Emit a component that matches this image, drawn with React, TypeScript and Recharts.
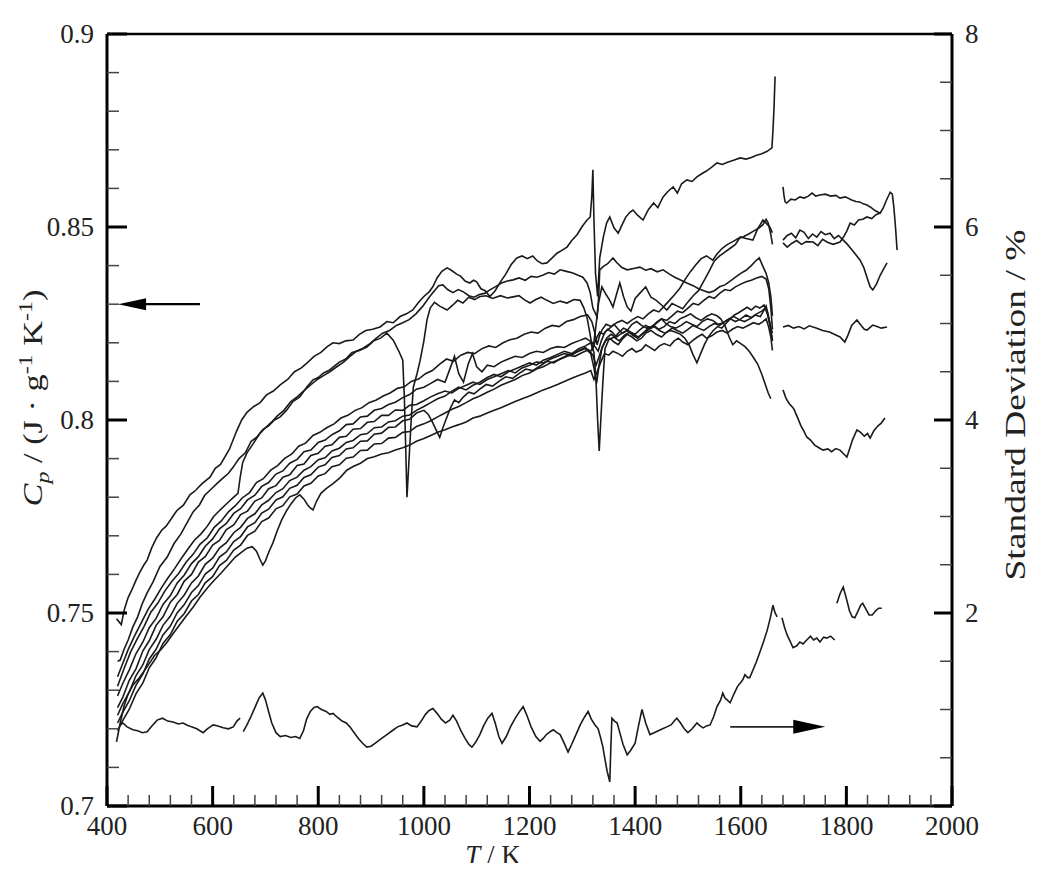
import React from 'react';
import { LineChart, Line, XAxis, YAxis, ReferenceLine } from 'recharts';

const W = 1030;
const H = 855;
const FONT = '"Liberation Serif", "Times New Roman", serif';
const INK = '#1a1a1a';

type P = [number, number | null];

// axis ticks
const xTicks: number[] = [];
for (let t = 400; t <= 2000; t += 40) xTicks.push(t);
const leftTicks: number[] = [];
for (let i = 70; i <= 90; i++) leftTicks.push(i / 100);
const rightTicks: number[] = [];
for (let i = 0; i <= 16; i++) rightTicks.push(i / 2);

// Cp runs (J g-1 K-1) vs T (K)
const c1: P[] = [
  [418, 0.7485], [427, 0.747], [433, 0.751], [440, 0.754], [447, 0.756], [455, 0.7585], [462, 0.7605], [470, 0.7625],
  [476, 0.7637], [485, 0.767], [494, 0.7695], [504, 0.7715], [512, 0.7725], [522, 0.7745], [532, 0.7765], [545, 0.778],
  [557, 0.7806], [568, 0.7818], [580, 0.7835], [595, 0.7852], [605, 0.7875], [615, 0.7885], [623, 0.7904], [632, 0.7925],
  [645, 0.797], [655, 0.8], [665, 0.802], [678, 0.8035], [690, 0.8045], [702, 0.8065], [715, 0.8075], [728, 0.8091],
  [742, 0.8105], [755, 0.8125], [768, 0.8135], [779, 0.8148], [792, 0.8165], [805, 0.8175], [817, 0.819], [828, 0.82],
  [840, 0.8198], [852, 0.8205], [866, 0.8207], [878, 0.8222], [890, 0.8232], [903, 0.8235], [917, 0.8241], [930, 0.8255],
  [942, 0.8252], [955, 0.8268], [967, 0.8275], [979, 0.8285], [990, 0.8305], [1000, 0.832], [1010, 0.8332], [1017, 0.8345],
  [1025, 0.8368], [1034, 0.8385], [1044, 0.8394], [1052, 0.8388], [1062, 0.8378], [1070, 0.8372], [1078, 0.836], [1087, 0.8355],
  [1094, 0.8362], [1100, 0.8358], [1108, 0.834], [1116, 0.8335], [1125, 0.832], [1135, 0.8335], [1145, 0.8358], [1155, 0.8378],
  [1165, 0.8402], [1176, 0.842], [1186, 0.8425], [1196, 0.8418], [1206, 0.8425], [1215, 0.8412], [1224, 0.8405], [1233, 0.8407],
  [1243, 0.842], [1252, 0.8432], [1262, 0.844], [1271, 0.8448], [1280, 0.8465], [1290, 0.848], [1300, 0.8502], [1309, 0.8518],
  [1315, 0.8526], [1318, 0.858], [1320, 0.8648], [1322, 0.852], [1325, 0.838], [1329, 0.832], [1333, 0.842], [1340, 0.8475],
  [1346, 0.851], [1352, 0.8526], [1360, 0.8498], [1368, 0.8484], [1375, 0.8505], [1382, 0.8525], [1390, 0.8538], [1396, 0.8544],
  [1405, 0.853], [1415, 0.8518], [1425, 0.8545], [1435, 0.8562], [1443, 0.855], [1453, 0.8578], [1462, 0.8592], [1472, 0.8604],
  [1480, 0.8588], [1488, 0.8612], [1498, 0.8622], [1508, 0.8618], [1517, 0.863], [1526, 0.8638], [1535, 0.8645], [1545, 0.8655],
  [1555, 0.8666], [1565, 0.8662], [1575, 0.8668], [1585, 0.8672], [1599, 0.8679], [1610, 0.8676], [1620, 0.868], [1630, 0.8686],
  [1640, 0.869], [1650, 0.8696], [1659, 0.8705], [1661, 0.875], [1663, 0.881], [1665, 0.889],
];

const c2: P[] = [
  [420, 0.7375], [425, 0.7378], [432, 0.7405], [440, 0.743], [449, 0.7464], [458, 0.749], [467, 0.7525], [476, 0.7552],
  [487, 0.758], [500, 0.762], [514, 0.7645], [527, 0.768], [540, 0.7705], [552, 0.7735], [563, 0.7762], [575, 0.778],
  [585, 0.7805], [595, 0.7818], [608, 0.7835], [620, 0.785], [630, 0.7862], [639, 0.7878], [650, 0.79], [662, 0.7915],
  [673, 0.7945], [684, 0.7956], [695, 0.7975], [706, 0.7985], [717, 0.8], [728, 0.8008], [740, 0.8025], [752, 0.8048],
  [765, 0.806], [778, 0.8085], [790, 0.8104], [800, 0.811], [810, 0.8122], [820, 0.8128], [828, 0.8137], [840, 0.815],
  [852, 0.8158], [864, 0.8175], [878, 0.818], [892, 0.8189], [905, 0.8205], [918, 0.8212], [930, 0.8225], [942, 0.8207],
  [952, 0.818], [960, 0.8155], [963, 0.806], [965, 0.796], [968, 0.78], [972, 0.79], [976, 0.8], [980, 0.8085],
  [987, 0.812], [993, 0.8155], [1000, 0.8205], [1006, 0.826], [1012, 0.829], [1020, 0.8305], [1030, 0.8295], [1044, 0.8285],
  [1055, 0.8298], [1064, 0.831], [1074, 0.8303], [1085, 0.8318], [1096, 0.8312], [1106, 0.832], [1118, 0.8322], [1130, 0.8315],
  [1145, 0.8322], [1158, 0.8316], [1169, 0.8319], [1180, 0.8322], [1190, 0.8312], [1201, 0.8303], [1212, 0.8312], [1222, 0.8318],
  [1233, 0.831], [1245, 0.8302], [1258, 0.8308], [1271, 0.8303], [1284, 0.8312], [1296, 0.831], [1303, 0.829], [1309, 0.8265],
  [1315, 0.822], [1320, 0.818], [1325, 0.8235], [1331, 0.8305], [1337, 0.8345], [1345, 0.8325], [1352, 0.831], [1358, 0.8293],
  [1364, 0.8322], [1371, 0.8355], [1378, 0.832], [1385, 0.8293], [1392, 0.8282], [1400, 0.8315], [1410, 0.833], [1420, 0.8345],
  [1430, 0.8318], [1440, 0.831], [1450, 0.8298], [1460, 0.8285], [1470, 0.8302], [1480, 0.8295], [1490, 0.8288], [1500, 0.8306],
  [1510, 0.8322], [1520, 0.8335], [1530, 0.836], [1540, 0.8385], [1550, 0.8412], [1560, 0.8425], [1570, 0.8435], [1580, 0.8445],
  [1590, 0.8455], [1599, 0.8474], [1610, 0.847], [1623, 0.8466], [1632, 0.8495], [1642, 0.8518], [1648, 0.851], [1655, 0.85],
  [1660, 0.8485], [1670, null],
  [1680, 0.8604], [1682, 0.858], [1684, 0.8565], [1687, 0.8562], [1695, 0.8572], [1703, 0.857], [1712, 0.8578], [1720, 0.8575],
  [1728, 0.858], [1735, 0.8588], [1742, 0.858], [1750, 0.8583], [1760, 0.8585], [1770, 0.858], [1780, 0.8582], [1788, 0.8575],
  [1798, 0.8578], [1810, 0.857], [1818, 0.8566], [1825, 0.8565], [1832, 0.856], [1839, 0.8557], [1847, 0.855], [1855, 0.8542],
  [1864, 0.8536], [1870, 0.855], [1876, 0.857], [1883, 0.859], [1887, 0.8585], [1890, 0.855], [1893, 0.85], [1896, 0.844],
];

const c3: P[] = [
  [420, 0.7335], [430, 0.737], [440, 0.7405], [452, 0.744], [465, 0.7475], [478, 0.751], [490, 0.7535], [503, 0.7565],
  [515, 0.759], [528, 0.7615], [540, 0.764], [553, 0.7665], [565, 0.7688], [578, 0.7705], [590, 0.7725], [602, 0.775],
  [615, 0.7768], [628, 0.7785], [640, 0.78], [648, 0.781], [652, 0.785], [657, 0.789], [665, 0.7915], [675, 0.7935],
  [690, 0.7966], [700, 0.798], [712, 0.7995], [722, 0.801], [735, 0.8025], [748, 0.8048], [760, 0.806], [772, 0.8075],
  [785, 0.809], [798, 0.8105], [810, 0.8115], [822, 0.8125], [835, 0.8138], [848, 0.815], [860, 0.8165], [872, 0.8178],
  [885, 0.8186], [898, 0.8198], [910, 0.8212], [922, 0.8225], [935, 0.8232], [948, 0.8245], [960, 0.8252], [972, 0.826],
  [985, 0.8275], [998, 0.8295], [1010, 0.8318], [1020, 0.8335], [1028, 0.8348], [1036, 0.835], [1045, 0.8338], [1055, 0.833],
  [1065, 0.8338], [1075, 0.8332], [1085, 0.8322], [1095, 0.8318], [1105, 0.8325], [1115, 0.8328], [1125, 0.8337], [1135, 0.8345],
  [1147, 0.8355], [1158, 0.836], [1169, 0.8363], [1180, 0.8368], [1192, 0.8362], [1203, 0.8372], [1214, 0.837], [1225, 0.8375],
  [1236, 0.8382], [1247, 0.8378], [1258, 0.8389], [1270, 0.8385], [1282, 0.8381], [1292, 0.8375], [1301, 0.837], [1309, 0.8355],
  [1315, 0.833], [1320, 0.829], [1328, 0.8267], [1331, 0.832], [1333, 0.8389], [1340, 0.8398], [1348, 0.8405], [1358, 0.842],
  [1365, 0.8408], [1375, 0.8395], [1385, 0.8389], [1395, 0.8392], [1409, 0.8396], [1420, 0.8388], [1430, 0.8392], [1442, 0.8384],
  [1453, 0.8389], [1465, 0.8378], [1475, 0.837], [1487, 0.8362], [1498, 0.8355], [1510, 0.8348], [1520, 0.834], [1530, 0.8335],
  [1540, 0.833], [1550, 0.8335], [1560, 0.8345], [1570, 0.835], [1580, 0.836], [1590, 0.837], [1600, 0.838], [1610, 0.8388],
  [1620, 0.84], [1628, 0.8412], [1635, 0.842], [1642, 0.8398], [1648, 0.838], [1653, 0.8355], [1657, 0.832], [1660, 0.827],
  [1670, null],
  [1680, 0.8466], [1688, 0.8478], [1696, 0.8484], [1704, 0.8472], [1712, 0.8492], [1720, 0.8486], [1728, 0.847], [1736, 0.8482],
  [1744, 0.8474], [1752, 0.8488], [1760, 0.848], [1769, 0.8484], [1777, 0.847], [1785, 0.8478], [1794, 0.8466], [1802, 0.8455],
  [1810, 0.8442], [1818, 0.8428], [1826, 0.8414], [1833, 0.8395], [1840, 0.8365], [1845, 0.8345], [1850, 0.8337], [1857, 0.8352],
  [1864, 0.8375], [1870, 0.839], [1877, 0.8407],
];

const c4: P[] = [
  [420, 0.731], [432, 0.7355], [445, 0.74], [458, 0.7435], [470, 0.7465], [483, 0.7502], [496, 0.7525], [510, 0.7558],
  [523, 0.7582], [536, 0.7603], [550, 0.7632], [563, 0.7652], [576, 0.7678], [590, 0.7695], [603, 0.7722], [616, 0.7738],
  [630, 0.7762], [643, 0.7778], [656, 0.7798], [670, 0.7812], [683, 0.7838], [696, 0.7848], [710, 0.787], [723, 0.7882],
  [736, 0.79], [750, 0.7912], [763, 0.7932], [776, 0.794], [790, 0.796], [803, 0.7968], [816, 0.798], [830, 0.799],
  [843, 0.8005], [856, 0.8012], [870, 0.8025], [883, 0.8032], [896, 0.8045], [910, 0.8052], [923, 0.8062], [936, 0.807],
  [950, 0.8082], [963, 0.8086], [976, 0.81], [990, 0.8106], [1003, 0.812], [1016, 0.8128], [1030, 0.8145], [1043, 0.8158],
  [1056, 0.8152], [1070, 0.8168], [1083, 0.8175], [1096, 0.8172], [1110, 0.8185], [1123, 0.8192], [1136, 0.8188], [1150, 0.82],
  [1163, 0.8208], [1176, 0.8212], [1190, 0.8222], [1203, 0.8228], [1216, 0.8225], [1230, 0.8238], [1243, 0.8245], [1256, 0.8242],
  [1270, 0.8255], [1283, 0.826], [1296, 0.8268], [1310, 0.8272], [1318, 0.8255], [1323, 0.823], [1328, 0.8195], [1333, 0.822],
  [1338, 0.8235], [1345, 0.8248], [1355, 0.8242], [1365, 0.8252], [1375, 0.8258], [1385, 0.825], [1395, 0.826], [1405, 0.8268],
  [1415, 0.8262], [1425, 0.8275], [1435, 0.8285], [1445, 0.828], [1455, 0.8295], [1465, 0.831], [1475, 0.8325], [1485, 0.8342],
  [1495, 0.8365], [1505, 0.8385], [1515, 0.8402], [1525, 0.8418], [1535, 0.8425], [1547, 0.8414], [1555, 0.843], [1565, 0.8445],
  [1575, 0.8455], [1585, 0.8462], [1595, 0.847], [1605, 0.8475], [1615, 0.8482], [1625, 0.849], [1635, 0.8498], [1642, 0.8506],
  [1648, 0.852], [1652, 0.851], [1657, 0.848], [1660, 0.8455], [1670, null],
  [1680, 0.8459], [1688, 0.8448], [1697, 0.8458], [1706, 0.8465], [1715, 0.8455], [1724, 0.8462], [1737, 0.8461], [1746, 0.8452],
  [1755, 0.8468], [1765, 0.846], [1775, 0.8455], [1788, 0.8461], [1795, 0.8475], [1801, 0.849], [1807, 0.851], [1815, 0.8505],
  [1823, 0.8518], [1831, 0.852], [1839, 0.8526], [1848, 0.8522], [1856, 0.8532], [1864, 0.8536],
];

const c5: P[] = [
  [420, 0.7285], [430, 0.7318], [442, 0.7352], [455, 0.7395], [468, 0.7425], [480, 0.7462], [493, 0.7486], [506, 0.7522],
  [520, 0.7545], [533, 0.7578], [546, 0.7598], [560, 0.7628], [573, 0.7646], [586, 0.7673], [600, 0.7692], [613, 0.7718],
  [626, 0.7732], [640, 0.7758], [653, 0.777], [666, 0.7793], [680, 0.7805], [693, 0.7828], [706, 0.7838], [720, 0.786],
  [733, 0.7868], [746, 0.7888], [760, 0.7898], [773, 0.7918], [786, 0.7922], [800, 0.7942], [813, 0.7948], [826, 0.7962],
  [840, 0.7972], [853, 0.7988], [866, 0.799], [880, 0.8008], [893, 0.801], [906, 0.8025], [920, 0.803], [933, 0.804],
  [946, 0.8046], [960, 0.8058], [973, 0.8066], [986, 0.808], [1000, 0.8085], [1013, 0.8095], [1026, 0.8105], [1040, 0.8098],
  [1050, 0.8135], [1058, 0.8165], [1066, 0.812], [1075, 0.8098], [1084, 0.8145], [1092, 0.8172], [1100, 0.8138], [1110, 0.8125],
  [1120, 0.8142], [1133, 0.8138], [1146, 0.815], [1160, 0.8158], [1173, 0.8165], [1186, 0.8162], [1200, 0.8172], [1213, 0.8178],
  [1226, 0.8175], [1240, 0.8185], [1253, 0.819], [1266, 0.8188], [1280, 0.8198], [1293, 0.8205], [1306, 0.8212], [1318, 0.8202],
  [1324, 0.819], [1330, 0.8178], [1336, 0.8205], [1343, 0.8228], [1352, 0.8238], [1360, 0.8248], [1368, 0.8235], [1376, 0.8225],
  [1385, 0.8232], [1394, 0.8248], [1403, 0.8255], [1412, 0.8245], [1422, 0.8238], [1432, 0.8242], [1442, 0.8255], [1450, 0.8262],
  [1458, 0.825], [1467, 0.8242], [1477, 0.8238], [1487, 0.8245], [1497, 0.8255], [1507, 0.8248], [1517, 0.8242], [1527, 0.8255],
  [1537, 0.8262], [1547, 0.8258], [1557, 0.8248], [1567, 0.8252], [1577, 0.8262], [1587, 0.8268], [1597, 0.826], [1607, 0.8255],
  [1617, 0.8262], [1627, 0.8272], [1637, 0.8268], [1643, 0.8282], [1648, 0.8295], [1652, 0.8272], [1656, 0.8245], [1660, 0.8225],
  [1670, null],
  [1680, 0.8241], [1690, 0.8245], [1700, 0.8238], [1710, 0.8242], [1720, 0.8236], [1730, 0.8244], [1744, 0.8238], [1755, 0.8232],
  [1768, 0.8228], [1780, 0.822], [1788, 0.8215], [1797, 0.8202], [1803, 0.822], [1810, 0.8245], [1820, 0.8259], [1828, 0.8245],
  [1834, 0.8235], [1839, 0.8233], [1845, 0.824], [1850, 0.8246], [1858, 0.8242], [1866, 0.8238], [1877, 0.8241],
];

const c6: P[] = [
  [420, 0.7255], [430, 0.7282], [442, 0.7325], [455, 0.7356], [468, 0.7402], [480, 0.7428], [493, 0.7468], [506, 0.749],
  [520, 0.7528], [533, 0.7548], [546, 0.7582], [560, 0.76], [573, 0.7632], [586, 0.7646], [600, 0.7676], [613, 0.7688],
  [626, 0.7716], [640, 0.7728], [653, 0.7755], [666, 0.7764], [680, 0.779], [693, 0.7798], [706, 0.7822], [720, 0.783],
  [733, 0.7852], [746, 0.7858], [760, 0.7882], [773, 0.7886], [786, 0.7908], [800, 0.7914], [813, 0.7932], [826, 0.7936],
  [840, 0.7955], [853, 0.7958], [866, 0.7976], [880, 0.7978], [893, 0.7994], [906, 0.7996], [920, 0.8012], [933, 0.8012],
  [946, 0.8026], [960, 0.8025], [973, 0.8038], [986, 0.804], [1000, 0.805], [1013, 0.806], [1026, 0.8068], [1040, 0.8075],
  [1053, 0.807], [1066, 0.8082], [1080, 0.809], [1093, 0.8098], [1106, 0.8092], [1120, 0.8105], [1133, 0.8112], [1146, 0.812],
  [1160, 0.8128], [1173, 0.8122], [1186, 0.8135], [1200, 0.8142], [1213, 0.815], [1226, 0.8148], [1240, 0.8158], [1253, 0.8165],
  [1266, 0.8172], [1280, 0.8168], [1293, 0.818], [1306, 0.8188], [1315, 0.8175], [1322, 0.8195], [1328, 0.8215], [1333, 0.8228],
  [1340, 0.8222], [1348, 0.8235], [1356, 0.8228], [1365, 0.8215], [1375, 0.8225], [1385, 0.8232], [1395, 0.822], [1405, 0.8212],
  [1415, 0.8225], [1425, 0.8238], [1435, 0.8245], [1445, 0.8235], [1455, 0.8242], [1465, 0.8255], [1475, 0.825], [1485, 0.8262],
  [1495, 0.8268], [1505, 0.8275], [1515, 0.8265], [1525, 0.8258], [1535, 0.8268], [1545, 0.8275], [1555, 0.827], [1562, 0.8262],
  [1570, 0.8245], [1578, 0.8215], [1585, 0.8195], [1592, 0.8205], [1600, 0.8198], [1608, 0.819], [1616, 0.8178], [1624, 0.8162],
  [1632, 0.8145], [1640, 0.8118], [1647, 0.809], [1652, 0.807], [1657, 0.8055], [1670, null],
  [1680, 0.8078], [1686, 0.8055], [1692, 0.8042], [1700, 0.803], [1707, 0.8008], [1714, 0.7985], [1720, 0.797], [1725, 0.7956],
  [1732, 0.7948], [1740, 0.7935], [1748, 0.7928], [1756, 0.7922], [1765, 0.7925], [1772, 0.7918], [1780, 0.7926], [1788, 0.7922],
  [1795, 0.7912], [1801, 0.7904], [1806, 0.7925], [1812, 0.795], [1820, 0.7974], [1827, 0.7968], [1834, 0.7958], [1840, 0.7965],
  [1845, 0.7953], [1852, 0.7972], [1860, 0.7985], [1866, 0.7992], [1873, 0.8005],
];

const c7: P[] = [
  [420, 0.7235], [430, 0.7265], [442, 0.7295], [455, 0.7338], [468, 0.7366], [480, 0.7405], [493, 0.7432], [506, 0.7468],
  [520, 0.7492], [533, 0.7525], [546, 0.7546], [560, 0.7578], [573, 0.7596], [586, 0.7626], [600, 0.7642], [613, 0.7668],
  [626, 0.7682], [640, 0.7708], [653, 0.7722], [666, 0.7745], [680, 0.7757], [693, 0.778], [706, 0.7792], [720, 0.7812],
  [733, 0.7822], [746, 0.7843], [760, 0.7852], [773, 0.787], [786, 0.7879], [800, 0.7897], [813, 0.7902], [826, 0.792],
  [840, 0.7927], [853, 0.7942], [866, 0.7947], [880, 0.7962], [893, 0.7965], [906, 0.798], [920, 0.7982], [933, 0.7995],
  [946, 0.7998], [960, 0.801], [973, 0.8013], [986, 0.8025], [1000, 0.8035], [1013, 0.8045], [1026, 0.8055], [1040, 0.8062],
  [1053, 0.8075], [1066, 0.8085], [1080, 0.8078], [1093, 0.809], [1106, 0.8098], [1120, 0.811], [1133, 0.8118], [1146, 0.8112],
  [1160, 0.8125], [1173, 0.8132], [1186, 0.814], [1200, 0.8148], [1213, 0.8142], [1226, 0.8155], [1240, 0.8162], [1253, 0.817],
  [1266, 0.8178], [1280, 0.8172], [1293, 0.8185], [1306, 0.8192], [1316, 0.82], [1322, 0.8175], [1326, 0.81], [1329, 0.8],
  [1332, 0.792], [1335, 0.8], [1339, 0.81], [1343, 0.8185], [1350, 0.8208], [1360, 0.8215], [1370, 0.8205], [1380, 0.822],
  [1390, 0.8228], [1400, 0.8222], [1410, 0.8235], [1420, 0.8245], [1430, 0.8238], [1440, 0.825], [1450, 0.8262], [1460, 0.8258],
  [1470, 0.827], [1480, 0.8282], [1490, 0.8278], [1500, 0.829], [1510, 0.8302], [1520, 0.8298], [1530, 0.831], [1540, 0.832],
  [1550, 0.8315], [1560, 0.8328], [1570, 0.8338], [1580, 0.8335], [1590, 0.8345], [1600, 0.8352], [1610, 0.8358], [1620, 0.8362],
  [1630, 0.8368], [1640, 0.8372], [1648, 0.8365], [1653, 0.834], [1657, 0.829], [1660, 0.8235],
];

const c8: P[] = [
  [420, 0.7215], [430, 0.7243], [442, 0.7272], [455, 0.7313], [468, 0.7342], [480, 0.7381], [493, 0.7406], [506, 0.7443],
  [520, 0.7466], [533, 0.7501], [546, 0.7521], [560, 0.7553], [573, 0.7571], [586, 0.7601], [600, 0.7616], [613, 0.7645],
  [626, 0.7658], [640, 0.7685], [653, 0.7698], [666, 0.7723], [680, 0.7734], [693, 0.7759], [706, 0.7769], [720, 0.7793],
  [733, 0.7801], [746, 0.7823], [760, 0.7831], [773, 0.7851], [786, 0.7858], [800, 0.7878], [813, 0.7884], [826, 0.7903],
  [840, 0.7908], [853, 0.7925], [866, 0.7928], [880, 0.7945], [893, 0.7946], [906, 0.7963], [920, 0.7966], [933, 0.7981],
  [946, 0.7982], [960, 0.7998], [973, 0.8002], [986, 0.8018], [1000, 0.8025], [1008, 0.8015], [1016, 0.7995], [1024, 0.7972],
  [1030, 0.7955], [1036, 0.798], [1043, 0.8005], [1050, 0.803], [1058, 0.8052], [1066, 0.8045], [1075, 0.806], [1085, 0.8072],
  [1095, 0.8068], [1106, 0.808], [1118, 0.8092], [1130, 0.8088], [1142, 0.81], [1155, 0.8112], [1168, 0.8108], [1180, 0.812],
  [1193, 0.8132], [1206, 0.8128], [1220, 0.814], [1233, 0.8152], [1246, 0.8148], [1260, 0.816], [1273, 0.8168], [1286, 0.8165],
  [1300, 0.8175], [1312, 0.8182], [1320, 0.8168], [1326, 0.8142], [1332, 0.8165], [1338, 0.819], [1346, 0.8212], [1354, 0.8222],
  [1362, 0.8215], [1370, 0.8228], [1378, 0.8238], [1387, 0.8232], [1396, 0.8222], [1406, 0.8215], [1416, 0.8225], [1426, 0.8235],
  [1436, 0.8242], [1446, 0.8232], [1456, 0.8225], [1466, 0.8232], [1476, 0.8228], [1486, 0.8222], [1494, 0.8212], [1502, 0.8195],
  [1510, 0.8168], [1517, 0.8148], [1524, 0.8172], [1532, 0.8198], [1540, 0.8218], [1548, 0.8232], [1556, 0.8242], [1564, 0.8238],
  [1572, 0.825], [1580, 0.8262], [1588, 0.8272], [1596, 0.8278], [1604, 0.8285], [1612, 0.8292], [1620, 0.8285], [1628, 0.8295],
  [1636, 0.829], [1644, 0.8298], [1650, 0.8282], [1655, 0.825], [1660, 0.8205],
];

const c9: P[] = [
  [420, 0.7195], [430, 0.7222], [442, 0.725], [455, 0.7291], [468, 0.7319], [480, 0.7358], [493, 0.7384], [506, 0.7421],
  [520, 0.7444], [533, 0.7479], [546, 0.7498], [560, 0.7531], [573, 0.7548], [586, 0.7578], [600, 0.7594], [613, 0.7623],
  [626, 0.7636], [640, 0.7663], [653, 0.7676], [666, 0.7701], [680, 0.7712], [693, 0.7737], [706, 0.7746], [720, 0.777],
  [733, 0.7778], [746, 0.7801], [760, 0.7808], [773, 0.7829], [786, 0.7836], [800, 0.7855], [813, 0.7861], [826, 0.7879],
  [840, 0.7884], [853, 0.7901], [866, 0.7904], [880, 0.7921], [893, 0.7922], [906, 0.7938], [920, 0.7939], [933, 0.7953],
  [946, 0.7955], [960, 0.7968], [973, 0.797], [986, 0.7983], [1000, 0.799], [1013, 0.7998], [1026, 0.8008], [1040, 0.8018],
  [1053, 0.8028], [1066, 0.8035], [1080, 0.8045], [1093, 0.8055], [1106, 0.8062], [1120, 0.8072], [1133, 0.808], [1146, 0.809],
  [1160, 0.8098], [1173, 0.8105], [1186, 0.8115], [1200, 0.8122], [1213, 0.8132], [1226, 0.8138], [1240, 0.8148], [1253, 0.8155],
  [1266, 0.8162], [1280, 0.817], [1293, 0.8178], [1306, 0.8185], [1316, 0.8172], [1322, 0.8135], [1327, 0.8095], [1332, 0.8145],
  [1337, 0.8185], [1344, 0.8205], [1352, 0.8212], [1360, 0.8202], [1368, 0.8195], [1376, 0.821], [1385, 0.8222], [1394, 0.8215],
  [1403, 0.8205], [1412, 0.8212], [1420, 0.8225], [1430, 0.8232], [1440, 0.8222], [1450, 0.8215], [1460, 0.8228], [1470, 0.8238],
  [1480, 0.8232], [1490, 0.8225], [1500, 0.8235], [1510, 0.8245], [1520, 0.8238], [1530, 0.8232], [1540, 0.8242], [1550, 0.825],
  [1560, 0.8245], [1570, 0.8255], [1580, 0.8262], [1590, 0.8255], [1600, 0.8262], [1610, 0.8272], [1620, 0.8265], [1630, 0.8275],
  [1640, 0.8282], [1646, 0.829], [1651, 0.8272], [1656, 0.824], [1660, 0.8205],
];

const c10: P[] = [
  [418, 0.7166], [425, 0.7215], [432, 0.7257], [440, 0.729], [450, 0.7315], [460, 0.733], [468, 0.7345], [478, 0.7365],
  [490, 0.739], [502, 0.7405], [514, 0.7425], [526, 0.7448], [538, 0.747], [550, 0.7492], [563, 0.7515], [576, 0.7541],
  [590, 0.7565], [603, 0.7585], [617, 0.7605], [630, 0.7625], [643, 0.7645], [655, 0.7658], [665, 0.7668], [675, 0.7672],
  [683, 0.766], [690, 0.7638], [695, 0.7624], [700, 0.7635], [707, 0.766], [714, 0.7681], [722, 0.7712], [731, 0.7742],
  [740, 0.7765], [748, 0.7782], [757, 0.7798], [765, 0.7806], [773, 0.7795], [780, 0.778], [785, 0.7772], [790, 0.7767],
  [797, 0.779], [805, 0.781], [815, 0.7822], [828, 0.7835], [841, 0.785], [854, 0.787], [867, 0.788], [880, 0.7888],
  [893, 0.79], [906, 0.7905], [920, 0.7912], [933, 0.7915], [946, 0.7922], [960, 0.7928], [973, 0.7935], [986, 0.7945],
  [1000, 0.7952], [1013, 0.796], [1026, 0.7968], [1040, 0.7975], [1053, 0.7982], [1066, 0.7988], [1080, 0.7995], [1093, 0.8005],
  [1106, 0.801], [1120, 0.8018], [1133, 0.8025], [1146, 0.8032], [1160, 0.804], [1173, 0.8048], [1186, 0.8055], [1200, 0.8062],
  [1213, 0.807], [1226, 0.8078], [1240, 0.8085], [1253, 0.8092], [1266, 0.81], [1280, 0.8108], [1293, 0.8115], [1306, 0.8122],
  [1316, 0.8128], [1322, 0.8105], [1328, 0.8125], [1335, 0.815], [1342, 0.8172], [1350, 0.8168], [1358, 0.8178], [1368, 0.8172],
  [1376, 0.8165], [1385, 0.8178], [1394, 0.8185], [1402, 0.8176], [1412, 0.8182], [1420, 0.8195], [1428, 0.8188], [1437, 0.818],
  [1446, 0.8192], [1455, 0.8198], [1466, 0.8192], [1474, 0.8205], [1482, 0.8212], [1490, 0.8202], [1500, 0.8195], [1508, 0.8205],
  [1518, 0.8215], [1527, 0.8222], [1535, 0.8212], [1545, 0.8218], [1555, 0.8228], [1565, 0.8232], [1574, 0.8225], [1584, 0.8235],
  [1594, 0.8242], [1604, 0.8238], [1614, 0.8245], [1624, 0.8252], [1634, 0.8248], [1642, 0.8255], [1648, 0.8262], [1653, 0.824],
  [1657, 0.8215], [1660, 0.818],
];

// standard deviation (%) on the right axis
const sd: P[] = [
  [425, 0.84], [430, 0.86], [438, 0.82], [449, 0.79], [458, 0.78], [467, 0.76], [476, 0.77], [485, 0.83], [495, 0.89],
  [505, 0.91], [515, 0.88], [525, 0.87], [535, 0.85], [544, 0.86], [551, 0.84], [560, 0.82], [570, 0.8], [582, 0.76],
  [590, 0.8], [601, 0.84], [610, 0.83], [620, 0.81], [630, 0.8], [639, 0.82], [646, 0.88], [652, 0.91], [655, null],
  [658, 0.77], [665, 0.84], [672, 0.92], [680, 1.02], [688, 1.12], [695, 1.17], [700, 1.1], [706, 0.98], [712, 0.86],
  [720, 0.76], [728, 0.72], [738, 0.73], [748, 0.71], [757, 0.72], [765, 0.7], [772, 0.78], [778, 0.9], [785, 0.98],
  [792, 1.02], [798, 1.03], [806, 1.0], [815, 0.98], [822, 0.95], [828, 0.96], [836, 0.92], [845, 0.88], [853, 0.86],
  [860, 0.82], [868, 0.76], [876, 0.7], [884, 0.65], [892, 0.61], [900, 0.62], [910, 0.66], [920, 0.7], [930, 0.74],
  [940, 0.78], [950, 0.82], [960, 0.84], [968, 0.86], [977, 0.83], [987, 0.82], [995, 0.88], [1003, 0.95], [1010, 0.99],
  [1017, 1.01], [1025, 0.96], [1033, 0.9], [1041, 0.86], [1049, 0.89], [1055, 0.94], [1062, 0.88], [1070, 0.78], [1078, 0.7],
  [1085, 0.64], [1091, 0.61], [1098, 0.66], [1106, 0.74], [1113, 0.83], [1121, 0.91], [1129, 0.96], [1135, 0.86], [1142, 0.72],
  [1148, 0.65], [1156, 0.72], [1164, 0.82], [1172, 0.9], [1180, 0.97], [1188, 1.03], [1195, 0.94], [1203, 0.82], [1212, 0.72],
  [1220, 0.67], [1226, 0.7], [1232, 0.74], [1239, 0.77], [1245, 0.79], [1252, 0.76], [1258, 0.74], [1265, 0.66], [1273, 0.56],
  [1280, 0.64], [1288, 0.74], [1296, 0.84], [1304, 0.92], [1311, 0.98], [1317, 0.9], [1324, 0.84], [1330, 0.8], [1335, 0.7],
  [1339, 0.61], [1343, 0.48], [1347, 0.36], [1352, 0.25], [1354, 0.6], [1356, 0.91], [1361, 0.88], [1366, 0.86], [1371, 0.76],
  [1377, 0.64], [1385, 0.53], [1392, 0.58], [1400, 0.65], [1406, 0.82], [1413, 1.0], [1420, 0.86], [1428, 0.74], [1436, 0.76],
  [1444, 0.78], [1452, 0.8], [1460, 0.82], [1468, 0.84], [1474, 0.88], [1479, 0.91], [1486, 0.86], [1493, 0.8], [1500, 0.76],
  [1508, 0.8], [1517, 0.86], [1523, 0.83], [1529, 0.81], [1535, 0.83], [1542, 0.84], [1549, 0.93], [1555, 1.03], [1562, 1.1],
  [1566, 1.17], [1570, 1.12], [1574, 1.1], [1580, 1.07], [1587, 1.16], [1594, 1.24], [1600, 1.28], [1604, 1.31], [1608, 1.36],
  [1613, 1.33], [1617, 1.33], [1624, 1.42], [1630, 1.5], [1636, 1.59], [1643, 1.7], [1650, 1.82], [1656, 1.95], [1661, 2.08],
  [1665, 2.0], [1669, 1.96], [1673, null],
  [1678, 1.95], [1683, 1.85], [1688, 1.77], [1694, 1.7], [1699, 1.64], [1706, 1.66], [1712, 1.7], [1718, 1.68], [1725, 1.72],
  [1732, 1.76], [1738, 1.72], [1744, 1.74], [1750, 1.7], [1757, 1.75], [1763, 1.74], [1770, 1.76], [1778, 1.72], [1780, null],
  [1782, 2.1], [1788, 2.2], [1794, 2.27], [1800, 2.15], [1806, 2.02], [1811, 1.96], [1816, 1.95], [1822, 2.02], [1827, 2.08],
  [1831, 2.1], [1837, 2.04], [1843, 1.98], [1849, 1.98], [1855, 2.02], [1861, 2.05], [1867, 2.05],
];

const cpRuns = [c1, c2, c3, c4, c5, c6, c7, c8, c9, c10];

const pts = (a: P[]) => a.map(([T, v]) => ({ T, v }));

const tickText = { fontFamily: FONT, fontSize: 27, fill: '#222' };

const XTick = (p: any) => {
  const v = p.payload.value;
  const major = v % 200 === 0;
  return (
    <g>
      <line x1={p.x} y1={p.y} x2={p.x} y2={p.y - (major ? 20 : 11)} stroke={major ? '#000' : '#444'} strokeWidth={major ? 3 : 1.5} />
      {major && (
        <text x={p.x} y={p.y + 29} textAnchor="middle" {...tickText}>{v}</text>
      )}
    </g>
  );
};

const LeftTick = (p: any) => {
  const v = Math.round(p.payload.value * 100) / 100;
  const major = Math.abs(v * 20 - Math.round(v * 20)) < 1e-6;
  return (
    <g>
      <line x1={p.x} y1={p.y} x2={p.x + (major ? 20 : 12)} y2={p.y} stroke={major ? '#000' : '#444'} strokeWidth={major ? 3 : 1.5} />
      {major && (
        <text x={p.x - 13} y={p.y + 9} textAnchor="end" {...tickText}>{String(v)}</text>
      )}
    </g>
  );
};

const RightTick = (p: any) => {
  const v = p.payload.value;
  const major = v % 2 === 0;
  return (
    <g>
      <line x1={p.x} y1={p.y} x2={p.x - (major ? 18 : 12)} y2={p.y} stroke={major ? '#000' : '#444'} strokeWidth={major ? 3 : 1.5} />
      {major && v > 0 && (
        <text x={p.x + 13} y={p.y + 9} textAnchor="start" {...tickText}>{v}</text>
      )}
    </g>
  );
};

const LeftArrow = (p: any) => {
  const { x1, y1, x2 } = p;
  return (
    <g>
      <line x1={x1 + 20} y1={y1} x2={x2} y2={y1} stroke="#000" strokeWidth={2.2} />
      <polygon points={`${x1},${y1} ${x1 + 28},${y1 - 6} ${x1 + 28},${y1 + 6}`} fill="#000" />
    </g>
  );
};

const RightArrow = (p: any) => {
  const { x1, y1, x2 } = p;
  return (
    <g>
      <line x1={x1} y1={y1} x2={x2 - 20} y2={y1} stroke="#222" strokeWidth={1.6} />
      <polygon points={`${x2},${y1} ${x2 - 32},${y1 - 7} ${x2 - 32},${y1 + 7}`} fill="#000" />
    </g>
  );
};

const titleBase: React.CSSProperties = {
  position: 'absolute',
  fontFamily: FONT,
  fontSize: 27,
  color: '#222',
  whiteSpace: 'nowrap',
  lineHeight: 1,
};

export default function App() {
  return (
    <div style={{ position: 'relative', width: W, height: H }}>
      <LineChart width={W} height={H} margin={{ top: 26, right: 0, bottom: 0, left: 0 }}>
        <XAxis
          dataKey="T"
          type="number"
          domain={[400, 2000]}
          ticks={xTicks}
          interval={0}
          allowDataOverflow
          height={57}
          tickSize={0}
          tickMargin={0}
          tickLine={false}
          tick={XTick}
          axisLine={{ stroke: '#000', strokeWidth: 3 }}
        />
        <YAxis
          yAxisId="left"
          type="number"
          domain={[0.7, 0.9]}
          ticks={leftTicks}
          interval={0}
          allowDataOverflow
          width={99}
          tickSize={0}
          tickMargin={0}
          tickLine={false}
          tick={LeftTick}
          axisLine={{ stroke: '#000', strokeWidth: 3 }}
        />
        <YAxis
          yAxisId="right"
          orientation="right"
          type="number"
          domain={[0, 8]}
          ticks={rightTicks}
          interval={0}
          allowDataOverflow
          width={86}
          tickSize={0}
          tickMargin={0}
          tickLine={false}
          tick={RightTick}
          axisLine={{ stroke: '#000', strokeWidth: 3 }}
        />
        <ReferenceLine yAxisId="left" y={0.9} stroke="#000" strokeWidth={2.5} ifOverflow="visible" />
        {cpRuns.map((run, i) => (
          <Line
            key={i}
            yAxisId="left"
            data={pts(run)}
            dataKey="v"
            type="linear"
            stroke={INK}
            strokeWidth={1.6}
            dot={false}
            activeDot={false}
            connectNulls={false}
            isAnimationActive={false}
          />
        ))}
        <Line
          yAxisId="right"
          data={pts(sd)}
          dataKey="v"
          type="linear"
          stroke={INK}
          strokeWidth={1.6}
          dot={false}
          activeDot={false}
          connectNulls={false}
          isAnimationActive={false}
        />
        <ReferenceLine
          yAxisId="left"
          segment={[{ x: 421, y: 0.83 }, { x: 576, y: 0.83 }]}
          shape={LeftArrow}
        />
        <ReferenceLine
          yAxisId="right"
          segment={[{ x: 1580, y: 0.82 }, { x: 1760, y: 0.82 }]}
          shape={RightArrow}
        />
      </LineChart>
      <div
        style={{
          ...titleBase,
          left: 27,
          top: 390,
          transform: 'translate(-50%, -50%) rotate(-90deg) scale(1.27, 1)',
        }}
      >
        <i>C</i>
        <sub style={{ fontSize: '0.7em', fontStyle: 'italic' }}>p</sub> / (J · g
        <sup style={{ fontSize: '0.7em' }}>-1</sup> K<sup style={{ fontSize: '0.7em' }}>-1</sup>)
      </div>
      <div
        style={{
          ...titleBase,
          left: 1007,
          top: 397,
          fontSize: 30,
          transform: 'translate(-50%, -50%) rotate(-90deg) scale(1.25, 1)',
        }}
      >
        Standard Deviation / %
      </div>
      <div style={{ ...titleBase, left: 485, top: 847, transform: 'translate(-50%, -50%)' }}>
        <i>T</i> / K
      </div>
    </div>
  );
}
